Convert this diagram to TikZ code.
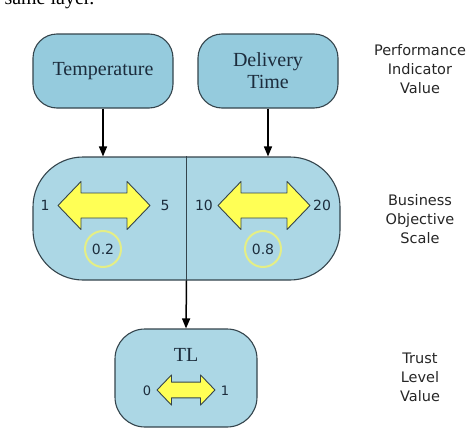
\documentclass[tikz,border=0pt]{standalone}
\usepackage{fontspec}
\setmainfont{Liberation Serif}
\newfontfamily\labelfont{DejaVu Sans}
\usepackage{xcolor}
\usepackage{tikz}
\usetikzlibrary{arrows.meta}

\definecolor{boxline}{HTML}{34444C}
\definecolor{topblue}{HTML}{95CBDD}
\definecolor{midblue}{HTML}{ACD7E5}
\definecolor{arrowyellow}{HTML}{FFFF55}
\definecolor{ringyellow}{HTML}{E4EE86}
\definecolor{numink}{HTML}{1C2C3C}

\tikzset{
  pibox/.style={draw=boxline,fill=topblue,line width=1.1pt,rounded corners=24pt,
    minimum width=140pt,minimum height=74pt,align=center,
    font=\fontsize{20}{22}\selectfont,text=numink},
  flow/.style={line width=1.5pt,-{Triangle[width=8pt,length=10pt]}},
  sidelabel/.style={align=center,font=\labelfont\fontsize{14.5}{19}\selectfont,text=black!85},
  num/.style={font=\labelfont\fontsize{14}{16}\selectfont,text=numink},
  ring/.style={circle,draw=ringyellow,line width=2pt,minimum size=36pt,inner sep=0pt,
    font=\labelfont\fontsize{14}{16}\selectfont,text=numink},
  scalearrow/.pic={
    \draw[fill=arrowyellow,draw=boxline,line width=0.9pt,line join=round]
      (-46,0) -- (-23,-24) -- (-23,-12.5) -- (23,-12.5) -- (23,-24) -- (46,0)
      -- (23,24) -- (23,12.5) -- (-23,12.5) -- (-23,24) -- cycle;
  }
}

\begin{document}
\begin{tikzpicture}[x=1pt,y=-1pt]
    \useasboundingbox (0,0) rectangle (474,431);

    \node[anchor=base east,font=\fontsize{20}{22}\selectfont] (page) at (98,5) {same layer.};

    \node[pibox] (temp) at (103,71) {Temperature};
    \node[pibox] (deliv) at (268,71) {Delivery\\Time};

    \node[draw=boxline,fill=midblue,line width=1.1pt,rounded corners=50pt,
      minimum width=307pt,minimum height=123pt] (scale) at (186.5,218.5) {};
    \draw[boxline,line width=0.9pt] (scale.north) -- (scale.south);

    \pic at (104,205.5) {scalearrow};
    \pic at (264,205.5) {scalearrow};
    \node[num] (lo1) at (45,205) {1};
    \node[num] (hi1) at (165,205) {5};
    \node[num] (lo2) at (204,205) {10};
    \node[num] (hi2) at (322,205) {20};
    \node[ring] (w1) at (103,249) {0.2};
    \node[ring] (w2) at (263,249) {0.8};

    \node[draw=boxline,fill=midblue,line width=1.1pt,rounded corners=30pt,
      minimum width=142pt,minimum height=98pt] (tl) at (186,378) {};
    \node[font=\fontsize{20}{22}\selectfont,text=numink] (tltext) at (186,355) {TL};
    \pic[scale=0.63] at (186,390) {scalearrow};
    \node[num,font=\labelfont\fontsize{13}{15}\selectfont] (lo3) at (147,391) {0};
    \node[num,font=\labelfont\fontsize{13}{15}\selectfont] (hi3) at (225,391) {1};

    \draw[flow] (temp.south) -- (temp.south |- scale.north);
    \draw[flow] (deliv.south) -- (deliv.south |- scale.north);
    \draw[flow] (scale.south) -- (tl.north);

    \node[sidelabel] (pilabel) at (420,69) {Performance\\Indicator\\Value};
    \node[sidelabel] (bolabel) at (420,219) {Business\\Objective\\Scale};
    \node[sidelabel] (tllabel) at (420,377) {Trust\\Level\\Value};
  \end{tikzpicture}
\end{document}
